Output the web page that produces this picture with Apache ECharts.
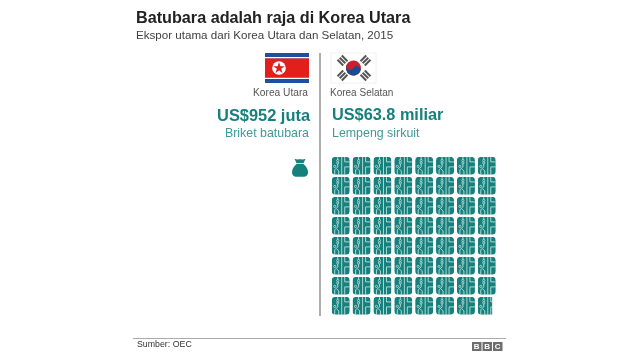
<!DOCTYPE html>
<html>
<head>
<meta charset="utf-8">
<style>
    html, body { margin: 0; padding: 0; background: #fff; }
    #main { width: 640px; height: 360px; }
</style>
</head>
<body>
<div id="main"></div>
<script src="https://cdn.jsdelivr.net/npm/echarts@6/dist/echarts.min.js"></script>
<script>
const countries = ["Korea Utara", "Korea Selatan"];
const exportLabels = ["US$952 juta", "US$63.8 miliar"];
const products = ["Briket batubara", "Lempeng sirkuit"];
// one icon is one billion dollars
const exportValues = [0.952, 63.8];
const gridColumns = [1, 8];
const gridRows = [1, 8];

const FONT = '"Liberation Sans", Arial, sans-serif';
const TEAL = "#16807c";
const TEAL_LIGHT = "#3f9a97";
const LINE = "#d5eae8";

// bag outline, drawn in a 16x18 box
const BAG_PATH = "M2.5 0 C4.5 1 6 0.6 8 0.6 C10 0.6 11.5 1 13.5 0 L11.5 4.6 L4.5 4.6 Z M4.5 5.4 L11.5 5.4 C14 7.5 16 10.5 16 13.5 C16 16.8 14 18 11 18 L5 18 C2 18 0 16.8 0 13.5 C0 10.5 2 7.5 4.5 5.4 Z";

// circuit traces inside an 18x18 icon
const TRACES = [
    [[3, 18], [3, 13], [6, 10], [6, 7]],
    [[7, 18], [7, 14], [5, 12]],
    [[10, 0], [10, 18]],
    [[13, 0], [13, 5], [18, 5]],
    [[18, 10], [13, 10], [13, 18]],
    [[6, 0], [6, 3]],
];
const PADS = [[6, 6], [3, 9.5], [6, 3.6]];

// turn a value into cells, the last one only partly filled
function buildCells(value, columns) {
    let cells = [];
    for (let i = 0; i < Math.ceil(value); i++) {
        cells.push([(i % columns) + 0.5, Math.floor(i / columns) + 0.5, Math.min(1, value - i)]);
    }
    return cells;
}

function renderBag(params, api) {
    let p = api.coord([api.value(0), api.value(1)]);
    return {
        type: "path",
        shape: { pathData: BAG_PATH, x: p[0] - 8, y: p[1] - 9, width: 16, height: 18 },
        style: { fill: TEAL },
    };
}

function renderChip(params, api) {
    let p = api.coord([api.value(0), api.value(1)]);
    let children = [
        { type: "rect", shape: { x: 0, y: 0, width: 18, height: 17.6, r: 3.5 }, style: { fill: TEAL } },
    ];
    TRACES.forEach((points) => {
        children.push({
            type: "polyline",
            shape: { points: points },
            style: { fill: null, stroke: LINE, lineWidth: 0.8 },
        });
    });
    PADS.forEach((pad) => {
        children.push({
            type: "circle",
            shape: { cx: pad[0], cy: pad[1], r: 1.1 },
            style: { fill: TEAL, stroke: LINE, lineWidth: 0.7 },
        });
    });
    return {
        type: "group",
        x: p[0] - 9,
        y: p[1] - 8.8,
        clipPath: { type: "rect", shape: { x: 0, y: 0, width: 18 * api.value(2), height: 18 } },
        children: children,
    };
}

function text(x, y, value, fontSize, color, align, weight) {
    return {
        type: "text",
        x: x,
        y: y,
        style: {
            text: value,
            font: (weight || "normal") + " " + fontSize + "px " + FONT,
            fill: color,
            textAlign: align || "left",
            textVerticalAlign: "middle",
        },
    };
}

function rect(x, y, w, h, color) {
    return { type: "rect", shape: { x: x, y: y, width: w, height: h }, style: { fill: color } };
}

// one trigram of three bars, centred on the origin of its group
function trigram(cx, cy, rotation) {
    let bars = [-3, 0, 3].map((d) => rect(-4, d - 1, 8, 2, "#555"));
    return { type: "group", x: cx, y: cy, rotation: rotation, children: bars };
}

function northFlag() {
    return [
        rect(265, 53, 44, 30, "#1f4f9e"),
        rect(265, 57, 44, 1.5, "#fff"),
        rect(265, 77.5, 44, 1.5, "#fff"),
        rect(265, 58.5, 44, 19, "#e21f1a"),
        { type: "circle", shape: { cx: 279, cy: 68, r: 6.8 }, style: { fill: "#fff" } },
        {
            type: "polygon",
            shape: {
                points: [[279, 62.1], [280.4, 66.2], [284.7, 66.2], [281.2, 68.8], [282.5, 72.9], [279, 70.4], [275.5, 72.9], [276.8, 68.8], [273.3, 66.2], [277.6, 66.2]],
            },
            style: { fill: "#e21f1a" },
        },
    ];
}

function southFlag() {
    let r = 7.5;
    return [
        { type: "rect", shape: { x: 331, y: 53, width: 45, height: 30 }, style: { fill: "#fff", stroke: "#f0f0f0", lineWidth: 1 } },
        trigram(342.5, 60.5, -Math.PI / 4),
        trigram(365.5, 60.5, Math.PI / 4),
        trigram(342.5, 75.5, Math.PI / 4),
        trigram(365.5, 75.5, -Math.PI / 4),
        {
            type: "group",
            x: 353.5,
            y: 68,
            rotation: -Math.PI / 6,
            children: [
                { type: "circle", shape: { cx: 0, cy: 0, r: r }, style: { fill: "#c8202f" } },
                { type: "sector", shape: { cx: 0, cy: 0, r: r, startAngle: 0, endAngle: Math.PI }, style: { fill: "#1b4a94" } },
                { type: "circle", shape: { cx: -r / 2, cy: 0, r: r / 2 }, style: { fill: "#c8202f" } },
                { type: "circle", shape: { cx: r / 2, cy: 0, r: r / 2 }, style: { fill: "#1b4a94" } },
            ],
        },
    ];
}

function initChart() {
    let chart = echarts.init(document.getElementById("main"), null, { renderer: "canvas" });
    let hiddenAxis = { type: "value", show: false, min: 0 };
    let option = {
        animation: false,
        backgroundColor: "#fff",
        grid: [
            { left: 289.6, top: 157.7, width: 20.86, height: 20 },
            { left: 330.3, top: 155.7, width: 166.9, height: 160 },
        ],
        xAxis: [
            Object.assign({}, hiddenAxis, { gridIndex: 0, max: gridColumns[0] }),
            Object.assign({}, hiddenAxis, { gridIndex: 1, max: gridColumns[1] }),
        ],
        yAxis: [
            Object.assign({}, hiddenAxis, { gridIndex: 0, max: gridRows[0], inverse: true }),
            Object.assign({}, hiddenAxis, { gridIndex: 1, max: gridRows[1], inverse: true }),
        ],
        series: [
            {
                name: countries[0],
                type: "custom",
                xAxisIndex: 0,
                yAxisIndex: 0,
                clip: false,
                renderItem: renderBag,
                data: buildCells(exportValues[0], gridColumns[0]),
            },
            {
                name: countries[1],
                type: "custom",
                xAxisIndex: 1,
                yAxisIndex: 1,
                clip: false,
                renderItem: renderChip,
                data: buildCells(exportValues[1], gridColumns[1]),
            },
        ],
        graphic: {
            elements: [
                text(136, 19, "Batubara adalah raja di Korea Utara", 16.2, "#222", "left", "bold"),
                text(136, 36, "Ekspor utama dari Korea Utara dan Selatan, 2015", 11.6, "#404040"),
                rect(319, 53, 2, 263, "#adadad"),
                text(308, 93, countries[0], 10.2, "#555", "right"),
                text(330, 93, countries[1], 10, "#555"),
                text(310, 116, exportLabels[0], 16.4, TEAL, "right", "bold"),
                text(332, 116, exportLabels[1], 16.3, TEAL, "left", "bold"),
                text(309, 134, products[0], 12.4, TEAL_LIGHT, "right"),
                text(332, 134, products[1], 12.4, TEAL_LIGHT),
                rect(133, 338, 373, 1, "#aaa"),
                text(137, 345, "Sumber: OEC", 8.8, "#333"),
                rect(472, 342, 9.5, 9, "#6e6e6e"),
                rect(482.5, 342, 9.5, 9, "#6e6e6e"),
                rect(493, 342, 9.5, 9, "#6e6e6e"),
                text(476.7, 346.7, "B", 8, "#fff", "center", "bold"),
                text(487.2, 346.7, "B", 8, "#fff", "center", "bold"),
                text(497.7, 346.7, "C", 8, "#fff", "center", "bold"),
            ].concat(northFlag(), southFlag()),
        },
    };
    chart.setOption(option);
}

initChart();
</script>
</body>
</html>
